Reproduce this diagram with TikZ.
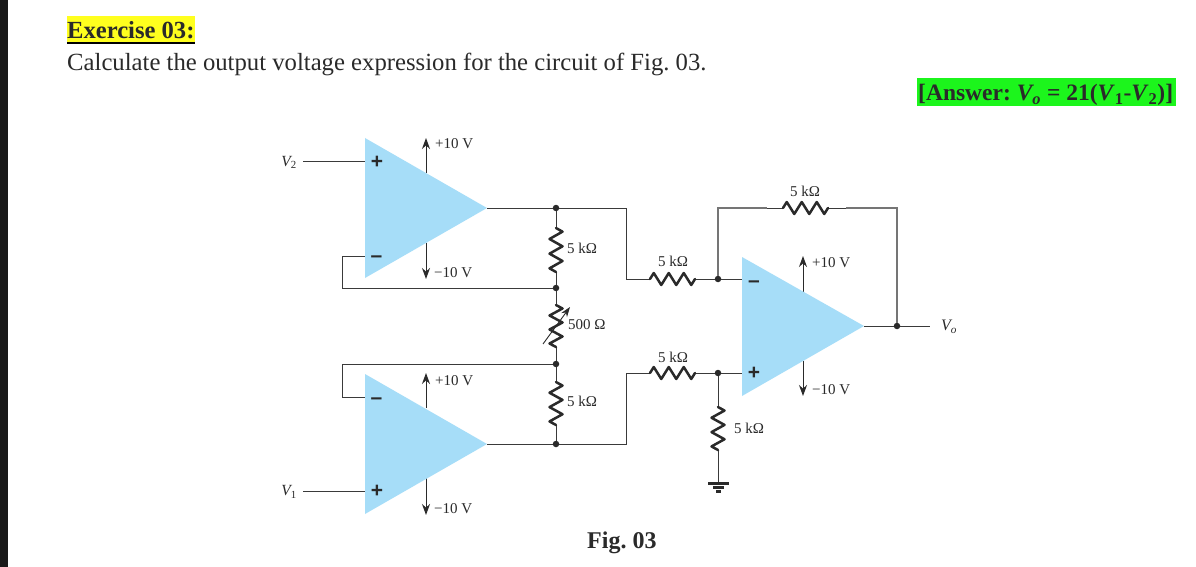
\documentclass[tikz,border=0pt]{standalone}
\usepackage{fontspec}
\setmainfont{Liberation Serif}
\newfontfamily\signfont{Liberation Sans}
\usetikzlibrary{arrows.meta,calc}
\definecolor{opblue}{HTML}{A6DDF8}
\definecolor{wirec}{HTML}{3A3A3A}
\definecolor{inkc}{HTML}{2A2A2A}
\definecolor{ansgreen}{HTML}{1CF51C}
\definecolor{hiyellow}{HTML}{FFFF1E}
\newcommand{\fsz}[1]{\fontsize{#1}{#1}\selectfont}
\tikzset{
  x=1pt,y=-1pt,
  wire/.style={draw=wirec,line width=1pt,line join=miter},
  greywire/.style={draw=wirec!70,line width=1.2pt},
  opamp/.style={fill=opblue,draw=none},
  supply/.style={draw=inkc,line width=1pt,-{Stealth[length=11pt,width=8pt]}},
  res/.style={draw=inkc,line width=2.5pt,line join=round,line cap=round},
  dot/.style={circle,fill=inkc,inner sep=0pt,minimum size=6.5pt},
  lab/.style={text=inkc,font=\fsz{15},inner sep=0pt},
  sign/.style={text=inkc,font=\signfont\bfseries\fsz{21},inner sep=0pt},
  head/.style={text=inkc,inner sep=0pt,anchor=base west},
}
\newcommand{\zigzagres}[3]{%
  \draw[res] (#1) -- ++($0.0833*(#2)+(#3)$) -- ++($0.1667*(#2)-2*(#3)$) -- ++($0.1667*(#2)+2*(#3)$) -- ++($0.1667*(#2)-2*(#3)$) -- ++($0.1667*(#2)+2*(#3)$) -- ++($0.1667*(#2)-2*(#3)$) -- ++($0.0833*(#2)+(#3)$);}
\frenchspacing
\begin{document}
\begin{tikzpicture}
\useasboundingbox (0,0) rectangle (1196,567);
\fill[white] (0,0) rectangle (1196,567);
\fill[black!90] (0,0) rectangle (8,567);

% heading
\fill[hiyellow] (67,16) rectangle (195,44);
\node[head] (title) at (67,39) {\fsz{24.6}\bfseries Exercise 03:};
\draw[black,line width=1.6pt] (67,43) -- (195,43);
\node[head] (question) at (67,70.5) {\fsz{24.7}Calculate the output voltage expression for the circuit of Fig. 03.};
\fill[ansgreen] (917,78) rectangle (1176,106);
\node[head] (answer) at (918,101) {\fsz{23.5}\bfseries [Answer: \textit{V\textsubscript{o}} = 21(\textit{V}\textsubscript{1}-\textit{V}\textsubscript{2})]};

% anchors of the op-amps
\coordinate (a1t) at (365,138); \coordinate (a1b) at (365,278); \coordinate (a1o) at (487,208);
\coordinate (a2t) at (365,374); \coordinate (a2b) at (365,514); \coordinate (a2o) at (487,444);
\coordinate (a3t) at (742,257); \coordinate (a3b) at (742,396); \coordinate (a3o) at (864,326);
\coordinate (a1p) at (365,161); \coordinate (a1m) at (365,256);
\coordinate (a2m) at (365,397); \coordinate (a2p) at (365,491);
\coordinate (a3m) at (742,279); \coordinate (a3p) at (742,373);

% supply arrows
\coordinate (s1a) at (426,173); \coordinate (s1b) at (426,138);
\coordinate (s2a) at (426,243); \coordinate (s2b) at (426,279);
\coordinate (s3a) at (426,408); \coordinate (s3b) at (426,373);
\coordinate (s4a) at (426,478); \coordinate (s4b) at (426,515);
\coordinate (s5a) at (803,292); \coordinate (s5b) at (803,256);
\coordinate (s6a) at (803,361); \coordinate (s6b) at (803,396);
\foreach \n in {1,...,6} \draw[supply] (s\n a) -- (s\n b);

\fill[opamp] (a1t) -- (a1o) -- (a1b) -- cycle;
\fill[opamp] (a2t) -- (a2o) -- (a2b) -- cycle;
\fill[opamp] (a3t) -- (a3o) -- (a3b) -- cycle;

% junctions
\node[dot] (j1) at (556,208) {};
\node[dot] (j2) at (556,288) {};
\node[dot] (j3) at (556,364) {};
\node[dot] (j4) at (556,444) {};
\node[dot] (j5) at (718,279) {};
\node[dot] (j6) at (718,373) {};
\node[dot] (j7) at (897,326) {};

% resistor ends
\coordinate (r1a) at (556,228); \coordinate (r1b) at (556,272);
\coordinate (r2a) at (556,305); \coordinate (r2b) at (556,347);
\coordinate (r3a) at (556,382); \coordinate (r3b) at (556,425);
\coordinate (r4a) at (650,279); \coordinate (r4b) at (695,279);
\coordinate (r5a) at (650,373); \coordinate (r5b) at (695,373);
\coordinate (r6a) at (718,407); \coordinate (r6b) at (718,450);
\coordinate (r7a) at (783,208); \coordinate (r7b) at (828,208);

% wires
\node[lab,anchor=east,font=\fsz{15.5}\itshape] (v2) at (297,162.5) {V\textsubscript{\upshape 2}};
\node[lab,anchor=east,font=\fsz{15.5}\itshape] (v1) at (297,492) {V\textsubscript{\upshape 1}};
\node[lab,anchor=west,font=\fsz{16}\itshape] (vo) at (941,327) {V\textsubscript{o}};
\coordinate (v2w) at (303,161); \coordinate (v1w) at (303,491);
\draw[wire] (v2w) -- (a1p);
\draw[wire] (v1w) -- (a2p);
\draw[wire] (a1o) -- (j1) -- (626,208) |- (r4a);
\draw[wire] (j1) -- (r1a);
\draw[wire] (r1b) -- (j2) -- (r2a);
\draw[wire] (r2b) -- (j3) -- (r3a);
\draw[wire] (r3b) -- (j4);
\draw[wire] (a2o) -- (j4) -- (626,444) |- (r5a);
\draw[wire] (j2) -- (342,288) |- (a1m);
\draw[wire] (j3) -- (342,364) |- (a2m);
\draw[wire] (r4b) -- (j5) -- (a3m);
\draw[wire] (r5b) -- (j6) -- (a3p);
\draw[wire] (j6) -- (r6a);
\coordinate (gnd) at (718,483);
\draw[wire] (r6b) -- (gnd);
\draw[greywire] (j5) |- (767,208);
\draw[wire] (767,208) -- (r7a);
\draw[wire] (r7b) -- (846,208);
\draw[greywire] (846,208) -- (897,208) -- (j7);
\draw[wire] (a3o) -- (j7) -- (930,326);

% resistors
\zigzagres{r1a}{0,44}{6.5,0}
\zigzagres{r2a}{0,42}{6.5,0}
\zigzagres{r3a}{0,43}{6.5,0}
\zigzagres{r4a}{45,0}{0,-6}
\zigzagres{r5a}{45,0}{0,-6}
\zigzagres{r6a}{0,43}{6.5,0}
\zigzagres{r7a}{45,0}{0,-6}
\coordinate (va) at (543,344); \coordinate (vb) at (570,307);
\draw[draw=inkc,line width=0.9pt,-{Stealth[length=10pt,width=7pt]}] (va) -- (vb);

% ground
\draw[inkc,line width=3pt] (708,483.5) -- (729,483.5);
\draw[inkc,line width=3pt] (713,487.5) -- (724,487.5);
\draw[inkc,line width=3pt] (716,491) -- (721,491);

% signs
\node[sign] (p1) at (377,162) {+};
\node[sign] (m1) at (376.5,259) {–};
\node[sign] (m2) at (376.5,401) {–};
\node[sign] (p2) at (377,491) {+};
\node[sign] (m3) at (754,284) {–};
\node[sign] (p3) at (754,373) {+};

% labels
\node[lab,anchor=west] (l1) at (435,144) {+10 V};
\node[lab,anchor=west] (l2) at (434,273) {−10 V};
\node[lab,anchor=west] (l3) at (435,381) {+10 V};
\node[lab,anchor=west] (l4) at (434,509) {−10 V};
\node[lab,anchor=west] (l5) at (812,263) {+10 V};
\node[lab,anchor=west] (l6) at (812,390) {−10 V};
\node[lab,anchor=west] (r1l) at (567,248) {5 k\symbol{"03A9}};
\node[lab,anchor=west] (r2l) at (568,325) {500 \symbol{"03A9}};
\node[lab,anchor=west] (r3l) at (567,401) {5 k\symbol{"03A9}};
\node[lab] (r4l) at (673,261) {5 k\symbol{"03A9}};
\node[lab] (r5l) at (673,357) {5 k\symbol{"03A9}};
\node[lab,anchor=west] (r6l) at (734,428) {5 k\symbol{"03A9}};
\node[lab] (r7l) at (805,191) {5 k\symbol{"03A9}};
\node[head] (figl) at (587,548) {\fsz{24}\bfseries Fig. 03};
\end{tikzpicture}
\end{document}
